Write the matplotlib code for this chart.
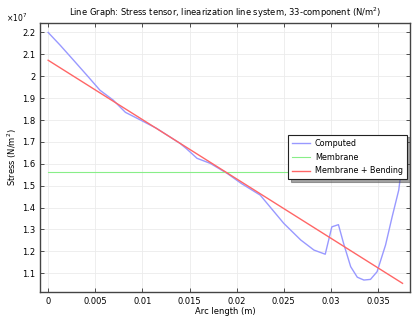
import matplotlib
matplotlib.use("Agg")
import matplotlib.pyplot as plt
import numpy as np

# valores (eixo y em unidades de 1e7 N/m^2)
arc = [0, 0.00127, 0.0027, 0.0041, 0.0055, 0.0069, 0.0082, 0.0098, 0.0115,
       0.014, 0.0147, 0.0158, 0.0172, 0.019, 0.0205, 0.0225, 0.025, 0.0268,
       0.0282, 0.0294, 0.0301, 0.0308, 0.03135, 0.0321, 0.0328, 0.0335,
       0.0342, 0.0349, 0.0358, 0.0365, 0.0372, 0.0376]
computed = [2.2, 2.142, 2.073, 2.005, 1.936, 1.891, 1.835, 1.80, 1.762,
            1.693, 1.668, 1.625, 1.602, 1.556, 1.51, 1.457, 1.328, 1.252,
            1.206, 1.187, 1.312, 1.322, 1.236, 1.13, 1.082, 1.069,
            1.072, 1.107, 1.229, 1.358, 1.48, 1.617]
membrane = 1.5635
mb_ends = [2.073, 1.054]
x_end = 0.0376

fig = plt.figure(figsize=(4.18, 3.17), dpi=100)
ax = fig.add_axes([0.096, 0.079, 0.885, 0.848])

ax.plot(arc, computed, color="#9999ff", lw=1, label="Computed")
ax.plot([0, x_end], [membrane, membrane], color="#88ee88", lw=0.8, label="Membrane")
ax.plot([0, x_end], mb_ends, color="#ff6666", lw=1, label="Membrane + Bending")

ax.set_xlim(-0.00085, 0.0384)
ax.set_ylim(1.0146, 2.2425)
ax.set_xticks(np.arange(0, 0.0351, 0.005))
ax.set_xticklabels(["0", "0.005", "0.01", "0.015", "0.02", "0.025", "0.03", "0.035"])
ax.set_yticks(np.arange(1.1, 2.21, 0.1))
ax.set_yticklabels(["1.1", "1.2", "1.3", "1.4", "1.5", "1.6", "1.7", "1.8", "1.9", "2", "2.1", "2.2"])
ax.tick_params(direction="in", top=True, right=True, labelsize=6, length=3, width=0.6, color="#333333")
ax.grid(color="#ebebeb", lw=0.6)
for s in ax.spines.values():
    s.set_color("#444444")
    s.set_linewidth(1)

ax.set_title("Line Graph: Stress tensor, linearization line system, 33-component (N/m$^2$)", fontsize=6, pad=5)
ax.set_xlabel("Arc length (m)", fontsize=6, labelpad=1)
ax.set_ylabel("Stress (N/m$^2$)", fontsize=6, labelpad=2)
fig.text(0.015, 0.93, "×10$^7$", fontsize=5.5)

leg = ax.legend(loc="upper left", bbox_to_anchor=(0.66, 0.60), fontsize=5.8, fancybox=False,
                shadow=True, framealpha=1, borderpad=0.5, handlelength=2.2, handletextpad=0.6,
                labelspacing=0.6)
leg.get_frame().set_edgecolor("#222222")
leg.get_frame().set_linewidth(0.8)

plt.savefig("out.png", dpi=100)
